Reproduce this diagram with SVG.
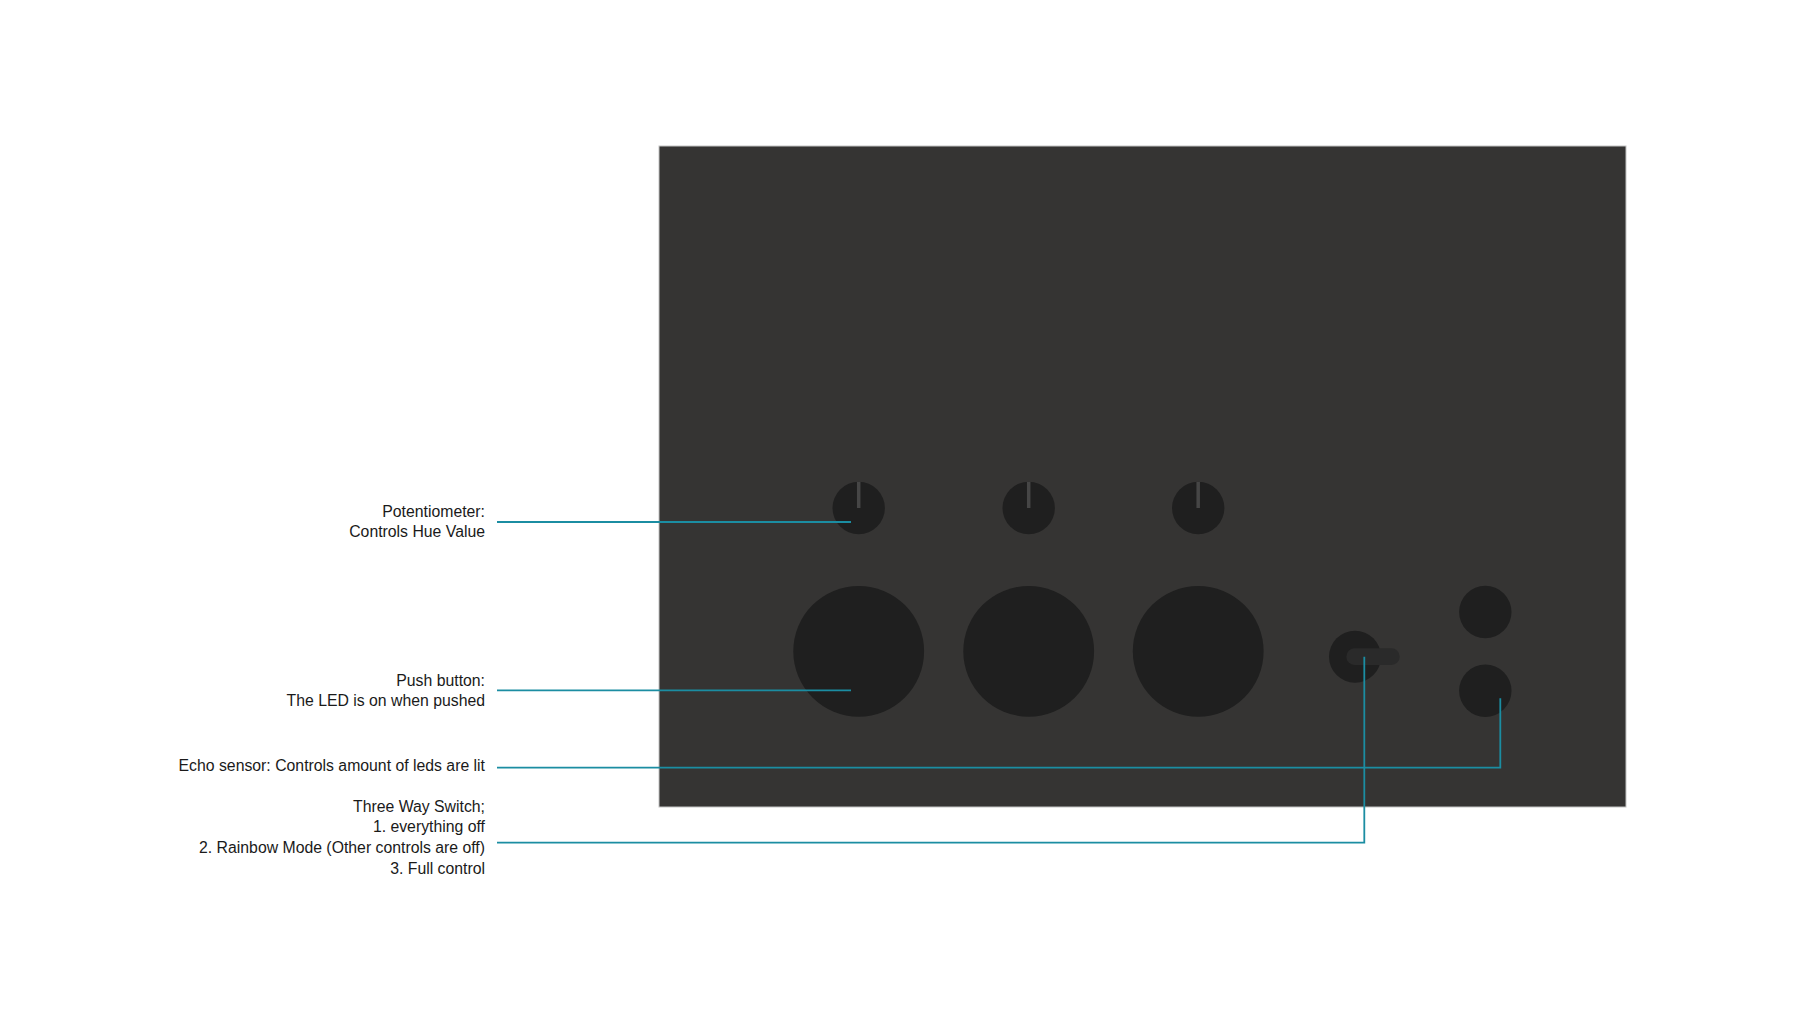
<svg xmlns="http://www.w3.org/2000/svg" width="1820" height="1024" viewBox="0 0 1820 1024">
<style>
.lbl{font-family:"Liberation Sans",Arial,sans-serif;font-size:15.8px;fill:#1a1a1a;text-anchor:end}
.knob{fill:#1f1f1f}
.ind{stroke:#464646;stroke-width:3.5}
.conn{fill:none;stroke:#1b8da2;stroke-width:1.8}
</style>
<rect width="1820" height="1024" fill="#ffffff"/>
<g id="panel">
<rect x="659" y="146" width="967" height="661" fill="#353433" stroke="#c4c4c4" stroke-width="1"/>
</g>
<g id="potentiometers">
<circle class="knob" cx="858.7" cy="508" r="26.2"/>
<line class="ind" x1="858.7" y1="481.8" x2="858.7" y2="508"/>
<circle class="knob" cx="1028.7" cy="508" r="26.2"/>
<line class="ind" x1="1028.7" y1="481.8" x2="1028.7" y2="508"/>
<circle class="knob" cx="1198.2" cy="508" r="26.2"/>
<line class="ind" x1="1198.2" y1="481.8" x2="1198.2" y2="508"/>
</g>
<g id="push-buttons">
<circle class="knob" cx="858.7" cy="651.3" r="65.4"/>
<circle class="knob" cx="1028.7" cy="651.3" r="65.4"/>
<circle class="knob" cx="1198.2" cy="651.3" r="65.4"/>
</g>
<g id="three-way-switch">
<circle class="knob" cx="1355" cy="656.7" r="26"/>
<rect x="1346.3" y="648.3" width="53.4" height="16.7" rx="8.35" fill="#2a2a2a"/>
</g>
<g id="echo-sensor">
<circle class="knob" cx="1485.3" cy="612" r="26.2"/>
<circle class="knob" cx="1485.3" cy="690.7" r="26.2"/>
</g>
<g id="connectors">
<polyline class="conn" points="497,522 851,522"/>
<polyline class="conn" points="497,690.3 851,690.3"/>
<polyline class="conn" points="497,767.7 1500.3,767.7 1500.3,698.3"/>
<polyline class="conn" points="497,842.7 1364.3,842.7 1364.3,656.7"/>
</g>
<g id="label-potentiometer">
<text class="lbl" x="485" y="516.7">Potentiometer:</text>
<text class="lbl" x="485" y="537.3">Controls Hue Value</text>
</g>
<g id="label-push-button">
<text class="lbl" x="485" y="685.7">Push button:</text>
<text class="lbl" x="485" y="706.3">The LED is on when pushed</text>
</g>
<g id="label-echo">
<text class="lbl" x="485" y="771">Echo sensor: Controls amount of leds are lit</text>
</g>
<g id="label-switch">
<text class="lbl" x="485" y="811.7">Three Way Switch; </text>
<text class="lbl" x="485" y="832.3">1. everything off</text>
<text class="lbl" x="485" y="852.9">2. Rainbow Mode (Other controls are off)</text>
<text class="lbl" x="485" y="873.5">3. Full control</text>
</g>
</svg>
